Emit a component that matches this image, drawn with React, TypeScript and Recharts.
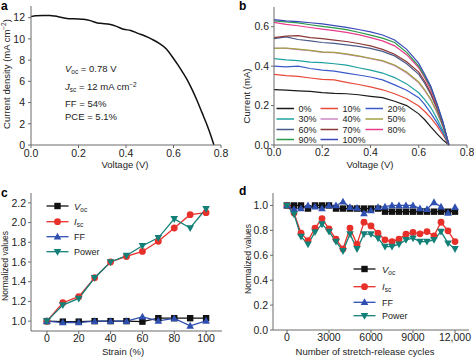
import React from 'react';
import { LineChart, Line, XAxis, YAxis } from 'recharts';

const FONT = '"Liberation Sans", Arial, Helvetica, sans-serif';
const AXIS = '#6a6a6a';
const TXT = '#222';

// ---------- Panel a ----------
const aVoltage = [0, 0.02, 0.05, 0.08, 0.1, 0.13, 0.16, 0.2, 0.22, 0.25, 0.28, 0.3, 0.33, 0.36, 0.39, 0.42, 0.45, 0.48, 0.51, 0.54, 0.57, 0.6, 0.62, 0.64, 0.66, 0.68, 0.7, 0.72, 0.74, 0.76, 0.77];
const aCurrent = [12.1, 12.18, 12.2, 12.2, 12.15, 12.02, 11.9, 11.88, 11.85, 11.72, 11.5, 11.45, 11.38, 11.18, 10.9, 10.8, 10.52, 10.27, 9.96, 9.58, 9.05, 8.15, 7.5, 6.8, 6.05, 5.15, 4.15, 3.05, 1.95, 0.7, 0.0];
const aXTicks = [0, 0.2, 0.4, 0.6, 0.8];
const aYTicks = [0, 2, 4, 6, 8, 10, 12];

// ---------- Panel b ----------
const bVoltage = [0, 0.05, 0.1, 0.15, 0.2, 0.25, 0.3, 0.35, 0.4, 0.45, 0.5, 0.55, 0.6, 0.625, 0.65, 0.675, 0.7, 0.725];
const bLabels = ['0%', '10%', '20%', '30%', '40%', '50%', '60%', '70%', '80%', '90%', '100%'];
const bColors = ['#1a1a1a', '#e84a3a', '#3a5ac8', '#1fa0a0', '#cc88c4', '#a0a040', '#4a5a88', '#8a3838', '#e83c8c', '#2a9a48', '#3a48b8'];
const b0 = [0.281, 0.278, 0.275, 0.272, 0.266, 0.262, 0.26, 0.255, 0.247, 0.24, 0.222, 0.2, 0.158, 0.128, 0.092, 0.058, 0.026, 0.0];
const b10 = [0.358, 0.352, 0.348, 0.34, 0.333, 0.33, 0.318, 0.307, 0.295, 0.28, 0.26, 0.235, 0.198, 0.17, 0.138, 0.098, 0.052, 0.0];
const b20 = [0.4, 0.396, 0.4, 0.388, 0.38, 0.375, 0.365, 0.355, 0.345, 0.33, 0.305, 0.278, 0.24, 0.205, 0.162, 0.115, 0.063, 0.0];
const b30 = [0.438, 0.432, 0.428, 0.42, 0.418, 0.412, 0.405, 0.392, 0.38, 0.365, 0.342, 0.31, 0.265, 0.23, 0.19, 0.135, 0.073, 0.0];
const b40 = [0.492, 0.49, 0.484, 0.478, 0.47, 0.468, 0.46, 0.45, 0.438, 0.425, 0.402, 0.365, 0.315, 0.275, 0.228, 0.165, 0.094, 0.0];
const b50 = [0.49, 0.492, 0.486, 0.48, 0.472, 0.47, 0.462, 0.452, 0.44, 0.428, 0.406, 0.37, 0.32, 0.28, 0.232, 0.17, 0.096, 0.0];
const b60 = [0.54, 0.548, 0.535, 0.528, 0.52, 0.515, 0.508, 0.5, 0.49, 0.475, 0.452, 0.412, 0.358, 0.312, 0.256, 0.185, 0.1, 0.0];
const b70 = [0.545, 0.552, 0.555, 0.545, 0.54, 0.532, 0.525, 0.515, 0.503, 0.485, 0.46, 0.422, 0.37, 0.322, 0.264, 0.192, 0.107, 0.0];
const b80 = [0.622, 0.612, 0.605, 0.596, 0.588, 0.58, 0.571, 0.56, 0.545, 0.528, 0.503, 0.458, 0.392, 0.34, 0.28, 0.2, 0.11, 0.0];
const b90 = [0.63, 0.625, 0.619, 0.61, 0.602, 0.594, 0.585, 0.572, 0.557, 0.542, 0.52, 0.47, 0.4, 0.348, 0.29, 0.208, 0.114, 0.0];
const b100 = [0.636, 0.63, 0.626, 0.62, 0.614, 0.606, 0.597, 0.586, 0.574, 0.558, 0.533, 0.485, 0.414, 0.358, 0.298, 0.212, 0.119, 0.0];
const bSeries = [b0, b10, b20, b30, b40, b50, b60, b70, b80, b90, b100];
const bXTicks = [0, 0.2, 0.4, 0.6, 0.8];
const bYTicks = [0, 0.2, 0.4, 0.6];

// ---------- Panel c ----------
const cStrain = [0, 10, 20, 30, 40, 50, 60, 70, 80, 90, 100];
const cVoc = [1.0, 0.995, 0.995, 1.0, 1.0, 1.0, 0.995, 1.03, 1.03, 1.03, 1.03];
const cIsc = [1.0, 1.187, 1.248, 1.44, 1.6, 1.656, 1.707, 1.81, 1.945, 2.08, 2.1];
const cFF = [1.0, 0.986, 0.986, 1.0, 1.0, 1.0, 1.044, 1.003, 1.027, 0.952, 1.003];
const cPower = [1.0, 1.163, 1.23, 1.44, 1.6, 1.666, 1.765, 1.845, 2.037, 1.945, 2.14];
const cXTicks = [0, 20, 40, 60, 80, 100];
const cYTicks = [1.0, 1.2, 1.4, 1.6, 1.8, 2.0, 2.2];

// ---------- Panel d ----------
const dCycles = [0, 500, 1000, 1500, 2000, 2500, 3000, 3500, 4000, 4500, 5000, 5500, 6000, 6500, 7000, 7500, 8000, 8500, 9000, 9500, 10000, 10500, 11000, 11500, 12000];
const dVoc = [1.0, 1.0, 1.0, 0.975, 1.0, 1.0, 1.0, 0.975, 0.975, 0.975, 0.975, 0.975, 0.975, 0.975, 0.95, 0.95, 0.95, 0.95, 0.95, 0.95, 0.95, 0.95, 0.95, 0.95, 0.95];
const dIsc = [1.0, 0.94, 0.777, 0.718, 0.818, 0.895, 0.812, 0.729, 0.651, 0.818, 0.689, 0.866, 0.836, 0.777, 0.724, 0.71, 0.729, 0.769, 0.783, 0.772, 0.79, 0.756, 0.865, 0.796, 0.71];
const dFF = [1.0, 0.97, 0.975, 1.0, 0.99, 0.975, 1.0, 1.0, 1.03, 0.985, 0.98, 0.935, 0.96, 0.985, 0.99, 1.0, 1.0, 1.0, 1.0, 0.975, 0.97, 1.025, 0.99, 0.94, 0.985];
const dPower = [1.0, 0.93, 0.75, 0.689, 0.786, 0.85, 0.79, 0.71, 0.635, 0.77, 0.651, 0.77, 0.77, 0.737, 0.67, 0.67, 0.689, 0.724, 0.737, 0.71, 0.71, 0.724, 0.79, 0.697, 0.651];
const dXTicks = [0, 3000, 6000, 9000, 12000];
const dXTickLabels = ['0', '3000', '6000', '9000', '12,000'];
const dYTicks = [0, 0.2, 0.4, 0.6, 0.8, 1.0];

// Series styling for c and d
const metricKeys = ['voc', 'isc', 'ff', 'power'];
const metricColors = ['#111111', '#e8302a', '#2f4fb0', '#138078'];
const metricShapes = ['square', 'circle', 'up', 'down'];

const aData = aVoltage.map((v, i) => ({ v, j: aCurrent[i] }));
const bData = bVoltage.map((v, i) => {
  const row: any = { v };
  bSeries.forEach((s, k) => (row['s' + k] = s[i]));
  return row;
});
const cData = cStrain.map((x, i) => ({ x, voc: cVoc[i], isc: cIsc[i], ff: cFF[i], power: cPower[i] }));
const dData = dCycles.map((x, i) => ({ x, voc: dVoc[i], isc: dIsc[i], ff: dFF[i], power: dPower[i] }));

function Marker({ shape, cx, cy, color }: { shape: string; cx: number; cy: number; color: string }) {
  if (shape === 'square') return <rect x={cx - 3.2} y={cy - 3.2} width={6.4} height={6.4} fill={color} />;
  if (shape === 'circle') return <circle cx={cx} cy={cy} r={3.4} fill={color} />;
  if (shape === 'up')
    return <polygon points={`${cx},${cy - 4} ${cx - 3.8},${cy + 2.8} ${cx + 3.8},${cy + 2.8}`} fill={color} />;
  return <polygon points={`${cx},${cy + 4} ${cx - 3.8},${cy - 2.8} ${cx + 3.8},${cy - 2.8}`} fill={color} />;
}

const makeDot = (shape: string, color: string) => (props: any) => {
  const { cx, cy, index } = props;
  if (cx == null || cy == null) return <g key={`e${index}`} />;
  return (
    <g key={`${shape}-${index}`}>
      <Marker shape={shape} cx={cx} cy={cy} color={color} />
    </g>
  );
};

const tickStyle = { fontSize: 10.5, fill: TXT, fontFamily: FONT };

export default function App() {
  const axisCommon = {
    tickSize: 3,
    tickMargin: 1,
    stroke: AXIS,
    axisLine: { stroke: AXIS },
    tickLine: { stroke: AXIS },
    tick: tickStyle,
  };
  return (
    <div style={{ position: 'absolute', left: 0, top: 0, width: 474, height: 357, background: '#fff', overflow: 'hidden' }}>
      {/* Panel a */}
      <div style={{ position: 'absolute', left: 0, top: 0 }}>
        <LineChart width={240} height={175} data={aData} margin={{ top: 6, right: 19, left: 0, bottom: 0 }}>
          <XAxis dataKey="v" type="number" domain={[0, 0.8]} ticks={aXTicks} tickFormatter={(v: number) => v.toFixed(1)} height={30} {...axisCommon} tickMargin={2} />
          <XAxis xAxisId="top" orientation="top" type="number" domain={[0, 0.8]} dataKey="v" height={0} tick={false} tickLine={false} axisLine={{ stroke: AXIS }} />
          <YAxis type="number" domain={[0, 13.1]} ticks={aYTicks} width={31} {...axisCommon} tickMargin={3} />
          <YAxis yAxisId="right" orientation="right" type="number" domain={[0, 13.1]} width={0} tick={false} tickLine={false} axisLine={{ stroke: AXIS }} />
          <Line dataKey="j" type="monotone" stroke="#111" strokeWidth={1.5} dot={false} activeDot={false} isAnimationActive={false} />
        </LineChart>
      </div>

      {/* Panel b */}
      <div style={{ position: 'absolute', left: 237, top: 0 }}>
        <LineChart width={237} height={175} data={bData} margin={{ top: 7, right: 7, left: 0, bottom: 0 }}>
          <XAxis dataKey="v" type="number" domain={[0, 0.8]} ticks={bXTicks} tickFormatter={(v: number) => v.toFixed(1)} height={30} {...axisCommon} />
          <XAxis xAxisId="top" orientation="top" type="number" domain={[0, 0.8]} dataKey="v" height={0} tick={false} tickLine={false} axisLine={{ stroke: AXIS }} />
          <YAxis type="number" domain={[0, 0.7]} ticks={bYTicks} tickFormatter={(v: number) => v.toFixed(1)} width={37} {...axisCommon} tickMargin={2} />
          <YAxis yAxisId="right" orientation="right" type="number" domain={[0, 0.7]} width={0} tick={false} tickLine={false} axisLine={{ stroke: AXIS }} />
          {bSeries.map((_, k) => (
            <Line key={k} dataKey={'s' + k} type="linear" stroke={bColors[k]} strokeWidth={1.2} dot={false} activeDot={false} isAnimationActive={false} />
          ))}
        </LineChart>
      </div>

      {/* Panel c */}
      <div style={{ position: 'absolute', left: 0, top: 175 }}>
        <LineChart width={237} height={182} data={cData} margin={{ top: 18, right: 15, left: 0, bottom: 0 }}>
          <XAxis dataKey="x" type="number" domain={[-10, 110]} ticks={cXTicks} height={26} {...axisCommon} />
          <XAxis xAxisId="top" orientation="top" type="number" domain={[-10, 110]} dataKey="x" height={0} tick={false} tickLine={false} axisLine={{ stroke: AXIS }} />
          <YAxis type="number" domain={[0.9, 2.3]} ticks={cYTicks} tickFormatter={(v: number) => v.toFixed(1)} width={31} {...axisCommon} tickMargin={2} />
          <YAxis yAxisId="right" orientation="right" type="number" domain={[0.9, 2.3]} width={0} tick={false} tickLine={false} axisLine={{ stroke: AXIS }} />
          {metricKeys.map((k, i) => (
            <Line key={k} dataKey={k} type="linear" stroke={metricColors[i]} strokeWidth={1.3} dot={makeDot(metricShapes[i], metricColors[i])} activeDot={false} isAnimationActive={false} />
          ))}
        </LineChart>
      </div>

      {/* Panel d */}
      <div style={{ position: 'absolute', left: 237, top: 175 }}>
        <LineChart width={237} height={182} data={dData} margin={{ top: 18, right: 5, left: 0, bottom: 0 }}>
          <XAxis dataKey="x" type="number" domain={[-1000, 13000]} ticks={dXTicks} tickFormatter={(v: number) => dXTickLabels[dXTicks.indexOf(v)] ?? String(v)} height={27} {...axisCommon} />
          <XAxis xAxisId="top" orientation="top" type="number" domain={[-1000, 13000]} dataKey="x" height={0} tick={false} tickLine={false} axisLine={{ stroke: AXIS }} />
          <YAxis type="number" domain={[0, 1.1]} ticks={dYTicks} tickFormatter={(v: number) => v.toFixed(1)} width={36} {...axisCommon} tickMargin={2} />
          <YAxis yAxisId="right" orientation="right" type="number" domain={[0, 1.1]} width={0} tick={false} tickLine={false} axisLine={{ stroke: AXIS }} />
          {metricKeys.map((k, i) => (
            <Line key={k} dataKey={k} type="linear" stroke={metricColors[i]} strokeWidth={1.3} dot={makeDot(metricShapes[i], metricColors[i])} activeDot={false} isAnimationActive={false} />
          ))}
        </LineChart>
      </div>

      {/* Text overlay: panel letters, axis titles, annotations, legends */}
      <svg width={474} height={357} style={{ position: 'absolute', left: 0, top: 0, pointerEvents: 'none' }} fontFamily={FONT} fill={TXT}>
        <text x={1} y={10} fontSize={12} fontWeight="bold" fill="#000">a</text>
        <text x={239} y={10} fontSize={12} fontWeight="bold" fill="#000">b</text>
        <text x={1} y={197} fontSize={12} fontWeight="bold" fill="#000">c</text>
        <text x={239} y={195} fontSize={12} fontWeight="bold" fill="#000">d</text>

        {/* a */}
        <text x={125} y={168} fontSize={9.5} textAnchor="middle">Voltage (V)</text>
        <text transform="translate(9.5,74) rotate(-90)" fontSize={9.5} textAnchor="middle">
          Current density (mA cm<tspan dy={-3.5} fontSize={6.5}>−2</tspan><tspan dy={3.5}>)</tspan>
        </text>
        <text x={65} y={72} fontSize={9.5}>
          <tspan fontStyle="italic">V</tspan><tspan fontSize={6.5} dy={2}>oc</tspan><tspan dy={-2}> = 0.78 V</tspan>
        </text>
        <text x={65} y={90} fontSize={9.5}>
          <tspan fontStyle="italic">J</tspan><tspan fontSize={6.5} dy={2}>sc</tspan><tspan dy={-2}> = 12 mA cm</tspan><tspan fontSize={6.5} dy={-3.5}>−2</tspan>
        </text>
        <text x={65} y={106.5} fontSize={9.5}>FF = 54%</text>
        <text x={65} y={120} fontSize={9.5}>PCE = 5.1%</text>

        {/* b */}
        <text x={370} y={168} fontSize={9.5} textAnchor="middle">Voltage (V)</text>
        <text transform="translate(250,96) rotate(-90)" fontSize={9.5} textAnchor="middle">Current (mA)</text>
        {bLabels.map((lab, k) => {
          const col = k % 3;
          const row = Math.floor(k / 3);
          const lx = [276.5, 320.5, 365.5][col];
          const ty = [108.5, 119, 129.5, 139.5][row];
          return (
            <g key={lab}>
              <line x1={lx} x2={lx + 17.5} y1={ty} y2={ty} stroke={bColors[k]} strokeWidth={1.5} />
              <text x={lx + 22} y={ty + 3.3} fontSize={9}>{lab}</text>
            </g>
          );
        })}

        {/* c */}
        <text x={123} y={355} fontSize={9.5} textAnchor="middle">Strain (%)</text>
        <text transform="translate(8,266) rotate(-90)" fontSize={8.5} textAnchor="middle">Normalized values</text>
        {metricKeys.map((k, i) => {
          const y = [206, 221.7, 236.7, 251.7][i];
          return (
            <g key={k}>
              <line x1={46.5} x2={68.5} y1={y} y2={y} stroke={metricColors[i]} strokeWidth={1.3} />
              <Marker shape={metricShapes[i]} cx={57.5} cy={y} color={metricColors[i]} />
            </g>
          );
        })}
        <text x={74} y={209.5} fontSize={9.5}><tspan fontStyle="italic">V</tspan><tspan fontSize={6.5} dy={2}>oc</tspan></text>
        <text x={74} y={225.2} fontSize={9.5}><tspan fontStyle="italic">I</tspan><tspan fontSize={6.5} dy={2}>sc</tspan></text>
        <text x={74} y={240.2} fontSize={9}>FF</text>
        <text x={74} y={255.2} fontSize={9}>Power</text>

        {/* d */}
        <text x={365} y={355} fontSize={9.5} textAnchor="middle">Number of stretch-release cycles</text>
        <text transform="translate(251,259) rotate(-90)" fontSize={8.5} textAnchor="middle">Normalized values</text>
        {metricKeys.map((k, i) => {
          const y = [269, 286.7, 302.3, 315.7][i];
          return (
            <g key={'d' + k}>
              <line x1={353.5} x2={375.5} y1={y} y2={y} stroke={metricColors[i]} strokeWidth={1.3} />
              <Marker shape={metricShapes[i]} cx={364.5} cy={y} color={metricColors[i]} />
            </g>
          );
        })}
        <text x={382} y={272.5} fontSize={9.5}><tspan fontStyle="italic">V</tspan><tspan fontSize={6.5} dy={2}>oc</tspan></text>
        <text x={382} y={290.2} fontSize={9.5}><tspan fontStyle="italic">I</tspan><tspan fontSize={6.5} dy={2}>sc</tspan></text>
        <text x={382} y={305.8} fontSize={9}>FF</text>
        <text x={382} y={319.2} fontSize={9}>Power</text>
      </svg>
    </div>
  );
}
